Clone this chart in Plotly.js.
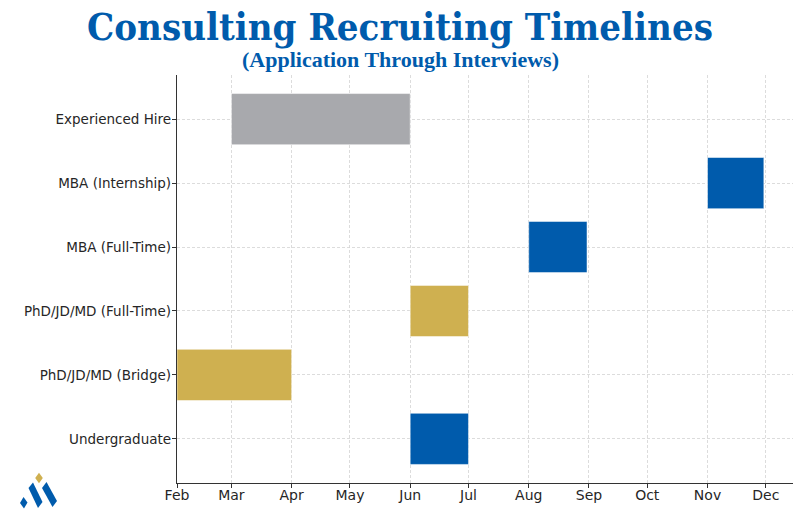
<!DOCTYPE html>
<html>
<head>
<meta charset="utf-8">
<script src="https://cdn.plot.ly/plotly-3.0.1.min.js"></script>
<style>html,body{margin:0;padding:0;background:#fff;}#chart{width:800px;height:526px;}</style>
</head>
<body>
<div id="chart"></div>
<script>
// Data (bottom to top)
const categories = ["Undergraduate", "PhD/JD/MD (Bridge)", "PhD/JD/MD (Full-Time)", "MBA (Full-Time)", "MBA (Internship)", "Experienced Hire"];
const startDates = ["2023-06-01", "2023-02-01", "2023-06-01", "2023-08-01", "2023-11-01", "2023-03-01"];
const endDates   = ["2023-07-01", "2023-04-01", "2023-07-01", "2023-08-31", "2023-11-30", "2023-06-01"];
const barColors  = ["#005BAC", "#CFB050", "#CFB050", "#005BAC", "#005BAC", "#A8A9AD"];
const monthTicks = ["2023-02-01","2023-03-01","2023-04-01","2023-05-01","2023-06-01","2023-07-01","2023-08-01","2023-09-01","2023-10-01","2023-11-01","2023-12-01"];
const monthLabels = ["Feb","Mar","Apr","May","Jun","Jul","Aug","Sep","Oct","Nov","Dec"];

const durations = startDates.map((s, i) => Date.parse(endDates[i]) - Date.parse(s));
const yIdx = categories.map((_, i) => i);

const W = 800, H = 526, L = 177, R = 7, T = 75, B = 43;
const pw = W - L - R, ph = H - T - B;
const px = x => (x - L) / pw;
const py = y => 1 - (y - T) / ph;
function path(pts) {
  return "M " + pts.map(p => px(p[0]).toFixed(5) + " " + py(p[1]).toFixed(5)).join(" L ") + " Z";
}

const trace = {
  type: "bar",
  orientation: "h",
  y: yIdx,
  x: durations,
  base: startDates,
  width: 0.8,
  marker: { color: barColors, line: { color: "rgba(255,255,255,0.5)", width: 1 } },
  hoverinfo: "skip"
};

const logoShapes = [
  { type: "path", xref: "paper", yref: "paper", path: path([[39,472.7],[42.8,478],[39,483.3],[35.2,478]]), fillcolor: "#CFB050", line: { width: 0 } },
  { type: "path", xref: "paper", yref: "paper", path: path([[20,503],[23.5,497],[27.5,502.5],[24,508.5]]), fillcolor: "#005BAC", line: { width: 0 } },
  { type: "path", xref: "paper", yref: "paper", path: path([[28.5,488],[33,482.5],[42.5,502],[38,508]]), fillcolor: "#005BAC", line: { width: 0 } },
  { type: "path", xref: "paper", yref: "paper", path: path([[42,488],[46.5,482],[57,501],[52.5,507]]), fillcolor: "#005BAC", line: { width: 0 } }
];

const axisCommon = {
  showgrid: true,
  gridcolor: "#d3d3d3",
  griddash: "3px,2px",
  gridwidth: 0.8,
  showline: true,
  linecolor: "#333333",
  linewidth: 1.2,
  ticks: "outside",
  ticklen: 4,
  tickcolor: "#333333",
  tickfont: { family: "DejaVu Sans", size: 13.5, color: "#262626" },
  zeroline: false,
  fixedrange: true
};

const layout = {
  width: W, height: H,
  margin: { l: L, r: R, t: T, b: B },
  paper_bgcolor: "#ffffff",
  plot_bgcolor: "#ffffff",
  showlegend: false,
  xaxis: Object.assign({}, axisCommon, {
    type: "date",
    range: ["2023-02-01", "2023-12-15"],
    tickvals: monthTicks,
    ticktext: monthLabels,
    ticklabelstandoff: -5,
    tickfont: { family: "DejaVu Sans", size: 14, color: "#262626" }
  }),
  yaxis: Object.assign({}, axisCommon, {
    range: [-0.69, 5.69],
    tickvals: yIdx,
    ticktext: categories,
    ticklabelstandoff: -2
  }),
  shapes: logoShapes,
  annotations: [
    { text: "<b>Consulting Recruiting Timelines</b>", xref: "paper", yref: "paper", x: px(400), y: py(27), xanchor: "center", yanchor: "middle", showarrow: false,
      font: { family: "DejaVu Serif Condensed, Liberation Serif", size: 38, color: "#005BAC" } },
    { text: "<b>(Application Through Interviews)</b>", xref: "paper", yref: "paper", x: px(400), y: py(60), xanchor: "center", yanchor: "middle", showarrow: false,
      font: { family: "Liberation Serif", size: 22, color: "#005BAC" } }
  ]
};

Plotly.newPlot("chart", [trace], layout, { displayModeBar: false, staticPlot: true });
</script>
</body>
</html>
